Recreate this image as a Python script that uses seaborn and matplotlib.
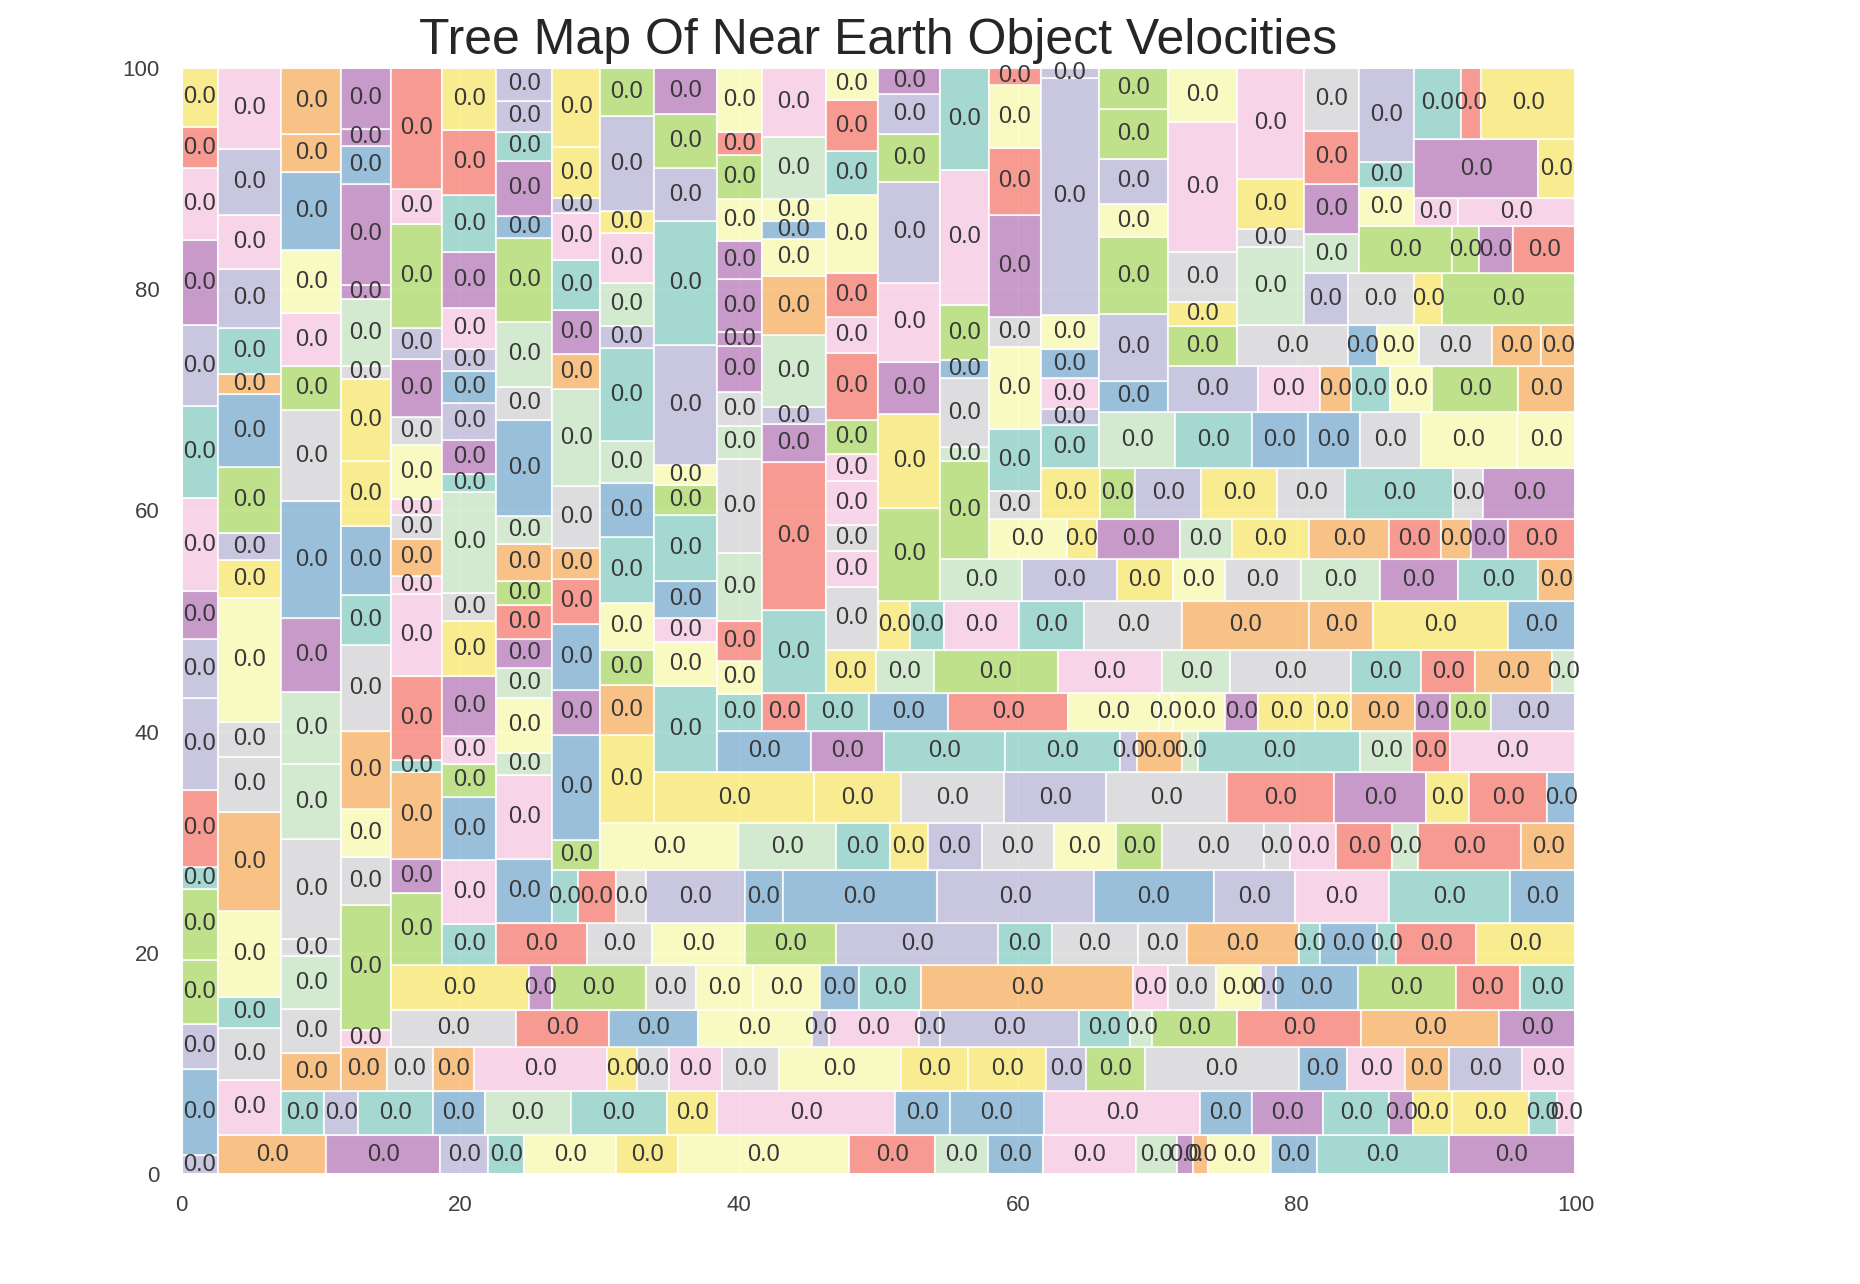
import matplotlib
matplotlib.use("Agg")
import matplotlib.pyplot as plt
import seaborn as sns

sns.set_theme(style="darkgrid")
plt.rcParams['font.family'] = ['Liberation Sans', 'DejaVu Sans']

# Tree map sizes (in layout order)
col1 = [4.59, 20.31, 10.74, 15.20, 16.77, 5.24, 18.08, 21.75, 14.02, 11.40, 22.01, 21.75, 19.13, 20.17, 17.03, 9.69, 14.15]
row1 = [27.62, 28.93, 12.25, 9.23, 23.43, 15.62, 43.67, 21.83, 13.49, 14.02, 23.79, 10.47, 3.91, 3.91, 15.98, 11.72, 33.55, 32.31]
col2 = [22.6, 21.24, 12.43, 35.26, 40.23, 22.83, 14.10, 50.67, 15.37, 11.16, 27.12, 29.43, 8.18, 19.03, 24.23, 21.92, 26.71, 33.45]
row2 = [12.28, 9.48, 21.33, 14.62, 24.49, 27.06, 14.42, 50.36, 15.41, 26.86, 44.04, 14.81, 20.15, 18.76, 6.72, 11.06, 21.73, 8.10, 5.14]
col3 = [14.87, 17.02, 20.82, 6.51, 39.05, 29.09, 28.02, 28.96, 45.38, 35.51, 17.28, 20.39, 24.65, 30.43, 15.0, 25.69]
row3 = [13.24, 13.49, 11.95, 38.68, 8.51, 9.32, 15.59, 16.40, 35.44, 19.44, 22.88, 11.54, 17.01, 44.75, 13.97, 17.01, 12.56, 21.26, 15.59]
col4 = [5.43, 40.08, 15.19, 15.44, 24.96, 27.80, 16.05, 21.90, 20.87, 26.34, 4.26, 21.37, 4.72, 32.31, 12.18, 5.33, 19.77]
row4 = [29.7, 21.95, 21.12, 26.96, 3.96, 21.48, 5.02, 32.84, 12.05, 5.18, 20.23, 29.37, 32.51, 18.15]
row5 = [40.30, 6.48, 27.34, 14.58, 16.61, 19.44, 11.34, 18.02, 61.64, 10.04, 13.97, 13.16, 4.25, 23.90, 28.35, 18.83, 16.0]
col5 = [24.16, 11.47, 28.86, 4.0, 28.19, 27.53, 6.03, 12.36, 8.03, 5.37, 17.91, 9.25, 19.61, 10.29, 34.67, 11.91, 40.44]
col6 = [14.44, 22.06, 21.91, 11.70, 9.63, 20.87, 19.02, 9.97, 35.04, 6.35, 11.74, 12.78, 11.13, 7.70, 14.36, 19.25, 20.02, 22.48, 21.79]
row6 = [24.97, 17.71, 25.35, 24.7, 44.19, 14.59, 23.48, 13.3, 30.59, 5.89, 15.58, 5.02, 21.96, 26.98]
col7 = [23.61, 30.46, 8.30, 20.01, 11.10, 10.61, 12.47, 8.79, 13.53, 10.13, 35.15, 12.19, 23.57, 30.78, 8.1, 20.13, 10.65, 11.34, 12.15]
row7 = [8.74, 13.2, 10.32, 34.22, 12.82, 53.18, 54.0, 41.28, 28.08, 32.16, 41.62, 22.70]
col8 = [9.11, 32.47, 13.63, 20.47, 13.84, 9.42, 19.04, 29.65, 10.81, 13.46, 15.44, 14.62, 4.32, 15.88, 24.34]
row8 = [41.79, 29.4, 16.25, 11.34, 16.38, 21.67, 18.69, 13.94, 30.66, 7.85, 13.99, 16.8, 7.85, 31.12, 16.25]
col9 = [31.32, 17.63, 12.09, 16.81, 23.13, 19.03, 14.70, 32.80, 7.76, 15.29, 17.63, 7.49, 33.54, 17.16]
row9 = [53.48, 28.92, 34.32, 34.08, 40.18, 35.94, 30.69, 14.42, 25.90, 9.44]
col10 = [35.40, 18.06, 9.87, 15.38, 26.85, 12.33, 8.51, 49.14, 50.82, 21.84, 22.16, 19.25]
row10 = [25.13, 19.76, 32.55, 30.94, 4.39, 12.11, 4.5, 43.5, 13.99, 10.09, 33.86]
col11 = [10.56, 9.66, 11.55, 19.65, 27.01, 9.70, 9.70, 13.34, 4.13, 15.14, 11.01, 12.16, 12.70, 6.82, 18.56]
row11 = [10.55, 15.18, 18.93, 28.94, 21.71, 3.52, 12.50, 7.77, 13.74, 8.71, 15.41, 8.38, 9.88, 20.27]
col12 = [34.17, 60.88, 15.74, 6.83, 29.58, 24.39, 15.38, 7.37, 8.83, 25.57, 28.57]
row12 = [14.22, 16.59, 35.0, 29.51, 19.43, 34.17, 19.83, 15.33, 21.80, 6.64]
col13 = [21.55, 12.50, 8.70, 15.09, 9.39, 11.70, 23.10, 12.08, 15.2, 26.79, 15.12, 17.40, 11.25]
row13 = [9.99, 10.78, 23.45, 20.81, 30.89, 40.13, 19.98, 42.64, 21.34]
col14 = [37.42, 37.78, 20.92, 31.86, 40.67, 19.27, 16.06, 10.50]
row14 = [22.12, 25.92, 15.24, 14.25, 20.71, 21.47, 21.47, 21.66, 10.26]
col15 = [30.46, 4.38, 21.53, 5.59, 17.25, 42.02, 31.95]
row15 = [20.44, 8.03, 21.54, 13.76, 20.26, 20.73, 13.76, 7.92, 9.53, 17.70]
col16 = [9.49, 20.85, 27.68, 10.16, 34.76, 22.69, 21.19, 6.0]
row16 = [19.64, 11.41, 21.85, 25.07, 22.54, 35.65, 9.66, 30.59]
col17 = [15.85, 6.06, 11.74, 10.79, 12.74, 88.98, 3.86]
row17 = [27.78, 27.67, 20.30, 18.94, 21.97, 34.74, 21.31]
col18 = [13.86, 29.85, 34.30, 14.90, 20.25, 22.47, 18.32]
row18 = [26.45, 18.45, 9.02, 11.56, 12.22, 25.42, 16.81]
col19 = [18.3, 10.85, 22.35, 59.0, 24.5]
row19 = [29.63, 8.06, 11.18, 19.5, 13.31, 9.26]
col20 = [33.70, 7.82, 21.89, 48.19]
row20 = [14.42, 22.32, 9.3, 44.41]
col21 = [13.85, 17.55, 18.92, 22.23]
row21 = [28.68, 8.43, 10.41, 19.35]
col22 = [13.55, 9.09, 33.85]
row22 = [7.88, 21.13]
row23 = [47.88, 14.18]
col23 = [21.74]
col24 = [9.22]
col25 = [43.86]

strips = [col1, row1, col2, row2, col3, row3, col4, row4, row5, col5, col6, row6,
          col7, row7, col8, row8, col9, row9, col10, row10, col11, row11, col12, row12,
          col13, row13, col14, row14, col15, row15, col16, row16, col17, row17, col18, row18,
          col19, row19, col20, row20, col21, row21, col22, row22, row23, col23, col24, col25]
# C = column stacked upward on the left, R = row laid along the bottom
strip_dirs = "CRCRCRCRRCCRCRCRCRCRCRCRCRCRCRCRCRCRCRCRCRCRRCCC"

# colour codes in Set3 order: T y L R B O G P A U g Y
strip_colors = [
    "LBLGGTRLLUPTLUPRY", "OULTyYyRgBPgUOyBTU", "PATyOAAyYLGBOTLPLP", "TLTBgTYPBBPBUTUYYTP",
    "OAgAAggUBAGPyBOO", "OAOPYAPAyYYLGABPOLP", "PGAyOATBYYAgUUBUU", "ARByLPLLTgGROU",
    "YUGAyyBTOPAyLBGRT", "GUOTRPPOAPyAULGPR", "TPBGPUYAgTULBLPUTRY", "RAyGLTAAOTBTRY",
    "BPgygURGOgBAgGBUTLL", "TRALBBLBLPTB", "GBUBROAgOUTPLYY", "ygTYLAyGAAPRgRO",
    "YOGyTBgTLgPYLG", "YYALARUYRB", "TyPBTGyLTLGU", "BUTTLOgTgRP",
    "TyRgAgAUUUUyGRy", "RTBRyyyUYYOUGL", "TRULgOyBygP", "YgGPgATROg",
    "APAPPGRPRyTRy", "YTPTAOOYB", "GYUPLGLU", "gLYyAgUTO",
    "GgABGPT", "yYUgYOROUR", "ATyAURyR", "YGLYATAU",
    "TLPByLL", "gTBBAyy", "BLGyLGG", "LPOTyGO",
    "GYAPy", "AByAOO", "gAYP", "LAYG", "gURA", "GGUR", "yTL", "PP", "UY", "T", "R", "Y",
]
palette = dict(zip("TyLRBOGPAUgY", sns.color_palette("Set3", 12)))


def strip_layout(strips, dirs, x, y, dx, dy):
    total = sum(sum(s) for s in strips)
    scale = dx * dy / total
    rects = []
    for sizes, d in zip(strips, dirs):
        sizes = [v * scale for v in sizes]
        area = sum(sizes)
        if d == "C":
            w = area / dy
            yy = y
            for v in sizes:
                rects.append((x, yy, w, v / w))
                yy += v / w
            x += w
            dx -= w
        else:
            h = area / dx
            xx = x
            for v in sizes:
                rects.append((xx, y, v / h, h))
                xx += v / h
            y += h
            dy -= h
    return rects


rects = strip_layout(strips, strip_dirs, 0, 0, 100, 100)
colors = [palette[c] for codes in strip_colors for c in codes]
labels = ["0.0"] * len(rects)

fig = plt.figure(figsize=(18.6, 12.84), dpi=100)
ax = fig.add_axes([0.0976, 0.0854, 0.7494, 0.862])

ax.bar([r[0] for r in rects], [r[3] for r in rects], width=[r[2] for r in rects],
       bottom=[r[1] for r in rects], align="edge", color=colors, alpha=0.75,
       edgecolor="white", linewidth=1.5)
for (x, y, w, h), lab in zip(rects, labels):
    ax.text(x + w / 2, y + h / 2, lab, ha="center", va="center", fontsize=17, color="#383838")

ax.set_xlim(0, 100)
ax.set_ylim(0, 100)
ax.set_xticks(range(0, 101, 20))
ax.set_yticks(range(0, 101, 20))
ax.tick_params(axis="x", labelsize=16, pad=9, colors=".25")
ax.tick_params(axis="y", labelsize=16, pad=10, colors=".25")
ax.set_title("Tree Map Of Near Earth Object Velocities", fontsize=36, color=".15", pad=10)

fig.savefig("out.png", dpi=100)
